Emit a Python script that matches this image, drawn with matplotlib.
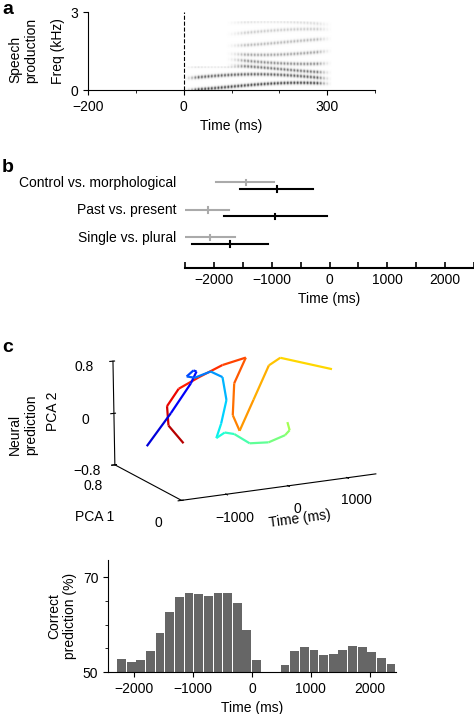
import numpy as np
import matplotlib.pyplot as plt
from mpl_toolkits.mplot3d.art3d import Line3DCollection

plt.rcParams['font.family'] = ['Liberation Sans', 'DejaVu Sans']
plt.rcParams['font.size'] = 10

# panel b: decoding intervals (ms)
contrasts = ["Control vs. morphological", "Past vs. present", "Single vs. plural"]
gray_lo = [-1958, -2485, -2485]
gray_hi = [-953, -1740, -1640]
gray_mid = [-1445, -2110, -2075]
black_lo = [-1540, -1820, -2380]
black_hi = [-280, -35, -1070]
black_mid = [-900, -935, -1730]

# panel d: correct prediction histogram
bin_centers = [-2220, -2056, -1892, -1728, -1564, -1400, -1236, -1072, -908, -744,
               -580, -416, -252, -88, 76,
               562, 726, 890, 1054, 1218, 1382, 1546, 1710, 1874, 2038, 2202, 2366]
pct = [52.8, 52.2, 52.5, 54.5, 58.3, 62.6, 65.9, 66.8, 66.6, 66.1, 66.8, 66.8, 64.6, 58.9, 52.5,
       51.4, 54.5, 55.3, 54.6, 53.5, 53.9, 54.7, 55.4, 55.3, 54.3, 52.9, 51.6]

# panel c: neural trajectories (time, pca1, pca2)
t1 = [-1690, -1300, -975, -880, -930, -1040, -910, -650, -455, -390, -480, -560, -420, -260, 0, 325, 610, 690, 650]
p1_1 = [0.4] * len(t1)
p2_1 = [-0.27, 0.18, 0.59, 0.76, 0.78, 0.7, 0.67, 0.74, 0.64, 0.29, -0.06, -0.27, -0.2, -0.24, -0.41, -0.43, -0.35, -0.28, -0.15]
t2 = [-1100, -1340, -1360, -1170, -845, -455, -65, -260, -285, -170, 65, 325, 520, 1430]
p1_2 = [0.4] * len(t2)
p2_2 = [-0.29, 0.0, 0.29, 0.53, 0.67, 0.82, 0.9, 0.53, 0.05, -0.2, 0.25, 0.75, 0.85, 0.6]

fig = plt.figure(figsize=(4.74, 7.14), dpi=100)
W, H = 474, 714

def box(x0, y0, x1, y1):
    return [x0 / W, 1 - y1 / H, (x1 - x0) / W, (y1 - y0) / H]

# ---- panel c first so it sits underneath the others
ax_c = fig.add_axes(box(-5, 282, 485, 560), projection="3d")
ax_c.patch.set_alpha(0)
cmap = plt.get_cmap("jet")
for tv, pa, pb, c0, c1 in [(t1, p1_1, p2_1, 0.08, 0.55), (t2, p1_2, p2_2, 0.95, 0.68)]:
    pts = np.array([tv, pa, pb]).T
    segs = np.stack([pts[:-1], pts[1:]], axis=1)
    n = len(segs)
    cols = [cmap(c0 + (c1 - c0) * k / max(n - 1, 1)) for k in range(n)]
    ax_c.add_collection3d(Line3DCollection(segs, colors=cols, lw=1.6))
ax_c.set_xlim(-1700, 1500)
ax_c.set_ylim(0, 0.8)
ax_c.set_zlim(-0.8, 0.8)
ax_c.set_box_aspect((2.6, 1.9, 1.3))
ax_c.set_xticks([-1000, 0, 1000])
ax_c.set_yticks([0, 0.8])
ax_c.set_yticklabels(["0", "0.8"])
ax_c.set_zticks([-0.8, 0, 0.8])
ax_c.set_zticklabels(["\u22120.8", "0", "0.8"])
ax_c.set_xlabel("Time (ms)", labelpad=2)
ax_c.set_ylabel("PCA 1", labelpad=6)
ax_c.yaxis.set_rotate_label(False)
ax_c.set_zlabel("PCA 2", labelpad=4)
ax_c.zaxis.set_rotate_label(False)
ax_c.zaxis.label.set_rotation(90)
ax_c.view_init(elev=12, azim=-118)
ax_c.grid(False)
for a in (ax_c.xaxis, ax_c.yaxis, ax_c.zaxis):
    a.pane.fill = False
    a.pane.set_edgecolor("none")
fig.text(8 / W, 1 - 425 / H, "Neural\nprediction", rotation=90, ha="left", va="center", fontsize=10)
fig.text(2 / W, 1 - 352 / H, "c", fontsize=14, fontweight="bold")

# ---- panel a: spectrogram (illustrative texture)
ax_a = fig.add_axes(box(88, 12, 375, 90))
tt = np.linspace(-200, 400, 900)
ff = np.linspace(0, 3, 150)
T, F = np.meshgrid(tt, ff)
spec = np.zeros_like(T)
for k, fc in enumerate([0.12, 0.45, 0.8, 1.15, 1.5, 1.85, 2.2, 2.5]):
    drift = fc + 0.15 * np.sin((T - 100) / 90.0 + k)
    spec += np.exp(-((F - drift) / 0.07) ** 2) * (1.2 - 0.12 * k)
spec *= 0.3 + 0.7 * (np.sin(T / 2.2) ** 2)
env = np.clip(T / 30, 0, 1) * np.clip((310 - T) / 30, 0, 1)
env *= np.where(F > 0.9, np.clip((T - 90) / 40, 0, 1), 1)
spec *= env
spec[F > 2.65] = 0
ax_a.imshow(spec, extent=[-200, 400, 0, 3], origin="lower", aspect="auto",
            cmap="Greys", vmin=0, vmax=1.4, interpolation="bilinear")
ax_a.axvline(0, color="k", ls="--", lw=0.8)
ax_a.set_xlim(-200, 400)
ax_a.set_ylim(0, 3)
ax_a.set_xticks([-200, 0, 300])
ax_a.set_xticks([-100, 100, 200, 400], minor=True)
ax_a.set_yticks([0, 3])
ax_a.spines[["top", "right"]].set_visible(False)
ax_a.set_xlabel("Time (ms)")
ax_a.set_ylabel("Freq (kHz)")
fig.text(8 / W, 1 - 50 / H, "Speech\nproduction", rotation=90, ha="left", va="center", fontsize=10)
fig.text(2 / W, 1 - 14 / H, "a", fontsize=14, fontweight="bold")

# ---- panel b: intervals
ax_b = fig.add_axes(box(185, 172, 474, 268))
ax_b.patch.set_alpha(0)
ys = [3, 2, 1]
for i, y in enumerate(ys):
    ax_b.plot([gray_lo[i], gray_hi[i]], [y + 0.12] * 2, color="#aaaaaa", lw=1.5)
    ax_b.plot([gray_mid[i]] * 2, [y + 0.02, y + 0.22], color="#aaaaaa", lw=1.5)
    ax_b.plot([black_lo[i], black_hi[i]], [y - 0.12] * 2, color="k", lw=1.5)
    ax_b.plot([black_mid[i]] * 2, [y - 0.22, y - 0.02], color="k", lw=1.5)
    ax_b.text(-2650, y + 0.1, contrasts[i], ha="right", va="center", fontsize=10)
ax_b.set_xlim(-2500, 2500)
ax_b.set_ylim(0, 3.5)
ax_b.set_yticks([])
ax_b.set_xticks([-2000, -1000, 0, 1000, 2000])
ax_b.set_xticks(np.arange(-2500, 2501, 500), minor=True)
ax_b.tick_params(which="both", direction="in", length=4, width=1.2)
ax_b.spines[["top", "right", "left"]].set_visible(False)
ax_b.spines["bottom"].set_linewidth(1.5)
ax_b.set_xlabel("Time (ms)")
fig.text(2 / W, 1 - 172 / H, "b", fontsize=14, fontweight="bold")

# ---- panel d: histogram
ax_d = fig.add_axes(box(108, 560, 396, 672))
ax_d.patch.set_alpha(0)
ax_d.bar(bin_centers, [p - 50 for p in pct], bottom=50, width=150, color="#666666")
ax_d.set_xlim(-2450, 2450)
ax_d.set_ylim(50, 73.7)
ax_d.set_yticks([50, 70])
ax_d.set_yticks([55, 60, 65], minor=True)
ax_d.set_xticks([-2000, -1000, 0, 1000, 2000])
ax_d.spines[["top", "right"]].set_visible(False)
ax_d.set_xlabel("Time (ms)")
ax_d.set_ylabel("Correct\nprediction (%)")

fig.savefig("out.png", dpi=100)
